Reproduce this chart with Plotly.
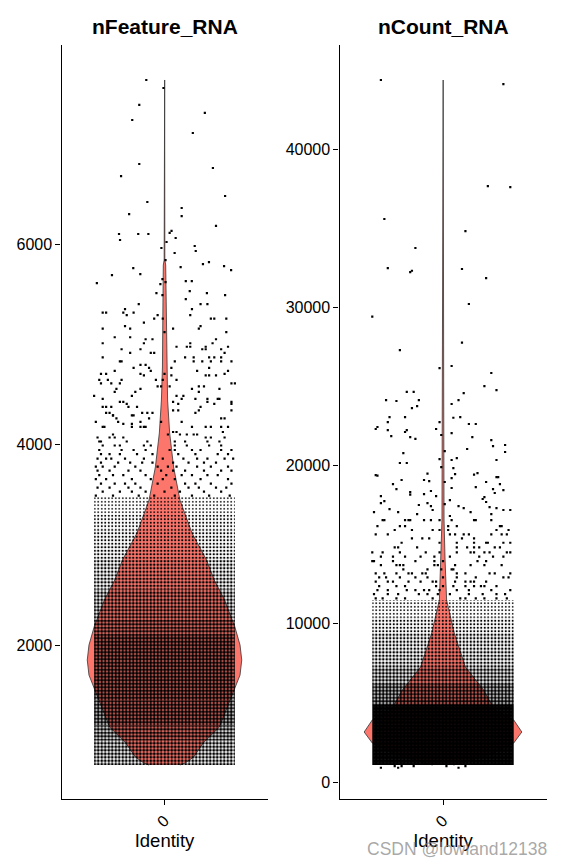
import plotly.graph_objects as go

# Violin outlines: value and half-width at that value.
nf_violin_y = [803, 823, 883, 1022, 1182, 1551, 1700, 1850, 2000, 2180, 2449, 2648, 2848, 3117, 3446, 3776, 4115, 4444, 4773, 5441, 5790, 5840, 7636]
nf_violin_w = [0.09, 0.12, 0.17, 0.225, 0.32, 0.405, 0.44, 0.45, 0.44, 0.41, 0.35, 0.29, 0.245, 0.16, 0.09, 0.053, 0.03, 0.018, 0.012, 0.009, 0.007, 0.002, 0.001]
nc_violin_y = [1074, 1200, 1833, 2465, 3160, 3918, 4550, 5814, 7268, 9417, 11500, 14030, 16558, 24774, 44366]
nc_violin_w = [0.06, 0.11, 0.29, 0.41, 0.457, 0.41, 0.3, 0.235, 0.13, 0.065, 0.021, 0.012, 0.006, 0.004, 0.001]

# Share of the jitter strip covered by dots, per value band. The dense cloud
# holds far too many dots to read one by one, so it is given as coverage and
# drawn with a dot fill pattern: a stand-in texture, not the original dots.
nf_band_lo = [3300, 3150, 3000, 2850, 2700, 2550, 2400, 2250, 2100, 1450, 1200, 1050, 900, 803]
nf_band_hi = [3480, 3300, 3150, 3000, 2850, 2700, 2550, 2400, 2250, 2100, 1450, 1200, 1050, 900]
nf_band_cover = [0.2, 0.26, 0.31, 0.36, 0.42, 0.48, 0.54, 0.6, 0.67, 0.76, 0.74, 0.68, 0.6, 0.52]
nc_band_lo = [10400, 9400, 8300, 7270, 6200, 5180, 4870, 1074]
nc_band_hi = [11500, 10400, 9400, 8300, 7270, 6200, 5180, 4870]
nc_band_cover = [0.24, 0.3, 0.38, 0.46, 0.58, 0.7, 0.78, 0.9]
jitter_half_width = 0.41

# Individually read dots, as (value, [jitter positions]) rows; estimated in the busier rows.
nf_rows = [
 (7636,[-.106]),(7556,[-.006]),(7387,[-.147]),(7307,[.235]),(7237,[-.188]),(7107,[.165]),(6798,[-.147]),(6758,[.282]),
 (6678,[-.253]),(6479,[.353]),(6419,[-.1]),(6359,[.1]),(6299,[-.206]),(6279,[.1]),(6180,[.3]),(6130,[.041]),(6110,[.03]),
 (6100,[-.265,-.153,-.094]),(6060,[.065]),(6040,[-.259]),(6020,[.012]),(5980,[.176]),(5960,[-.018]),(5930,[.182]),(5910,[.059]),
 (5840,[.006]),(5820,[.259]),(5800,[.224]),(5780,[.347]),(5770,[.094]),(5760,[-.182]),(5740,[.388]),(5700,[-.141]),(5690,[-.306]),
 (5650,[-.012]),(5630,[.124,.159]),(5620,[.006]),(5610,[-.394]),(5600,[-.024]),(5530,[.147]),(5510,[-.047,.247]),(5490,[.353,-.012]),(5450,[.124]),
 (5400,[-.15,.21,.25]),(5350,[-.23,.16]),(5315,[-.36,-.34,-.24,-.18]),(5290,[-.04,-.22,.15]),(5255,[.27,.36,.29,-.06,-.01]),(5215,[-.12]),
 (5180,[.21,-.23]),(5155,[-.36,.2,-.2,.05]),(5120,[.36,0]),(5070,[-.2,-.29]),(5050,[-.11,-.07,.3]),(5010,[-.36,-.12,.28,.15]),
 (4975,[.13,.15,.24,.37,.07]),(4950,[-.25,-.14,.22,.33,.24]),(4915,[.35,-.2,-.08,-.06]),(4870,[.26,-.36,.12,.17,.29,.33]),
 (4830,[.39,-.25,-.26,.06,.17,.22,.27,.33]),(4795,[-.14,-.11]),(4765,[-.09,.26,.04,-.18]),(4735,[.19,-.29,-.08,.37]),
 (4705,[0,-.14,.35,-.37,-.34]),(4690,[-.12,.04,.24,.26,.3]),(4645,[-.38,-.33,-.25,-.05,.07,-.01]),(4610,[-.31,-.37,-.26,.41,.39]),
 (4580,[-.02,.03,-.04,.2,.23]),(4555,[-.28,.16,.32,-.14]),(4525,[-.29,-.17,.2]),(4485,[-.41,-.19,.11,.07]),(4455,[.25,.31,.32,-.36,.1,.18]),
 (4425,[-.24,-.26,.05,.25,.39]),(4405,[.39,-.22,.08,.29]),(4375,[.21,-.36,-.21,-.16,-.34,-.31]),(4340,[.08,.05,.2,.39]),
 (4315,[.18,-.13,-.1,-.07,-.34,-.32]),(4290,[-.3,-.19,-.18,-.3]),(4260,[-.28,.33,.35,-.09]),(4225,[-.4,-.27,-.14,.1,-.02]),(4205,[-.24,-.19]),
 (4175,[.24,.27,-.36,-.35,-.12,-.14,-.11,.16,-.19,.33,.37]),(4125,[.05,.07,.34]),(4100,[.13,.09,.19,.17,.02,-.3]),(4070,[-.32,-.29,-.24,-.39,.24,.27,.35]),
 (4030,[-.37,-.38,-.22,-.1,.06,.12,.25,.32]),(3990,[-.36,-.29,-.26,-.12,-.08,.13,.26,.33,.06]),(3945,[-.38,-.25,-.18,-.11,.03,.06,.16,.21,.33,.39]),
 (3905,[-.37,-.32,-.26,-.16,-.07,.08,.18,.31,.37]),(3860,[-.39,-.34,-.31,-.23,-.12,-.01,.11,.19,.25,.35,.4]),(3820,[-.37,-.27,-.2,-.13,-.07,.05,.14,.23,.3]),
 (3780,[-.4,-.36,-.29,-.17,-.04,.02,.07,.19,.27,.37]),(3740,[-.39,-.32,-.21,-.14,-.02,.05,.12,.23,.33,.39]),(3695,[-.38,-.3,-.24,-.11,.01,.1,.16,.25,.31]),
 (3655,[-.4,-.34,-.19,-.08,-.01,.06,.21,.37]),(3610,[-.37,-.29,-.23,-.17,-.04,.12,.18,.27,.39]),(3570,[-.39,-.32,-.21,-.14,.04,.14,.2,.3,.36]),
 (3530,[-.36,-.26,-.19,-.11,0,.09,.23,.33]),(3490,[-.4,-.3,-.15,-.06,.06,.16,.26,.38]),
]
nc_rows = [
 (44366,[-.36]),(44110,[.35]),(37665,[.26]),(37600,[.39]),(35580,[-.34]),(34820,[.13]),(33750,[-.16]),(32480,[-.32]),(32420,[.11]),(32310,[-.18]),(32230,[-.19]),(31850,[.25]),
 (30210,[.15]),(29410,[-.41]),(27765,[.11]),(27300,[-.25]),(26290,[.05]),(26160,[-.02]),(25850,[.28]),(25025,[.24]),(24770,[.31]),(24650,[-.21,-.17]),(24580,[.12]),
 (24140,[-.33,-.14,.09]),(24080,[-.27]),(23890,[.05]),(23760,[-.15]),(23630,[-.18]),(23060,[-.31,-.22,.1]),(23020,[.06]),(22750,[-.32,-.02]),(22625,[.15,.19]),
 (22435,[-.38]),(22310,[-.39,-.04]),(22240,[-.32,-.21]),(22120,[-.22]),(22055,[.05]),(21930,[-.01]),(21865,[-.3]),(21800,[-.19,.17]),(21680,[-.16]),(21610,[.28]),
 (21300,[.36]),(21230,[.29]),(21045,[.14]),(20915,[.01]),(20855,[.36]),(20790,[-.23]),(20475,[.08]),(20410,[-.02]),(20350,[.05,.31]),(20160,[-.25,-.21]),(19905,[-.01]),(19840,[.06]),
 (19525,[.2]),(19485,[-.09]),(19460,[.07]),(19420,[.18]),(19400,[-.39]),(19360,[-.38]),(19270,[.31,.32]),(19210,[.05]),(19085,[-.24,-.11]),(19020,[-.08]),(18960,[.01,.25]),
 (18830,[-.29,.33]),(18640,[.19]),(18580,[.05]),(18515,[.29,-.27]),(18450,[.35]),(18390,[-.07]),(18325,[-.19]),(18265,[.3]),(18200,[-.11]),(18160,[-.19]),(18070,[-.04,-.36]),
 (18010,[.24]),(17885,[.23]),(17820,[.04]),(17755,[-.34]),(17695,[.25]),(17630,[-.36,-.09]),(17565,[.01]),(17505,[-.14]),(17440,[-.07,.09]),(17375,[.27]),(17315,[.12,.31]),
 (17250,[-.31]),(17190,[-.06,.35,.39]),(17060,[-.4,-.26,.16]),(16935,[-.15,.28]),(16810,[.04]),
 (16555,[-.35,-.34,-.22,-.2,-.19,-.11,-.07,-.02,.05,.18,.19,.28]),(16175,[-.38,-.25,-.22,.03,.08,.33,.34]),(15925,[-.28,-.18,-.06,-.02,.03,.31,.38]),
 (15650,[-.39,-.32,.12,.07,.15,.28,.34,.04,.37]),(15400,[-.18,-.12,-.08,.11,.18]),(15120,[-.24,-.02,.08,.25,.26,.35,.39,.18]),
 (14830,[-.26,-.28,-.15,.08,.14,.18,.21,.3,.33]),(14510,[-.41,-.35,-.25,-.1,-.02,.08,.16,.18,.24,.27,.37,.39]),(14240,[-.36,-.29,-.22,-.13,-.05,.04,.21,.29,.35]),
 (13965,[-.41,-.4,-.29,-.16,-.05,0,.2,.25]),(13710,[-.36,-.27,-.25,-.23,-.05,-.03,.07,.16,.24,.34]),(13440,[-.23,-.09,-.01,.06,.05]),
 (13185,[-.39,-.34,-.27,-.2,-.18,-.12,-.1,.08,.13,.27,.3,.39]),(12930,[-.37,-.33,-.25,-.16,-.09,0,.08,.19,.35,.38]),
 (12660,[-.39,-.32,-.29,-.2,-.13,-.06,-.04,.07,.13,.16,.18,.25]),(12385,[-.37,-.27,-.22,-.04,0,.06,.13,.18,.22,.24,.31]),
 (12130,[-.38,-.32,-.21,-.16,-.11,-.08,-.02,.08,.15,.28,.39]),(11880,[-.4,-.32,-.26,-.14,-.09,-.03,.04,.15,.23,.31,.36]),
 (11600,[-.39,-.35,-.27,-.22,-.06,.1,.13,.19,.24,.31,.37]),
 (1000,[-.28,-.24,-.17,.02,.13]),(900,[-.36,-.26,.09]),
]

panels = [
    ("nFeature_RNA", nf_violin_y, nf_violin_w, nf_band_lo, nf_band_hi, nf_band_cover, nf_rows, [464, 7985], [2000, 4000, 6000], "x", "y", [61.5, 267.5]),
    ("nCount_RNA", nc_violin_y, nc_violin_w, nc_band_lo, nc_band_hi, nc_band_cover, nc_rows, [-1074, 46578], [0, 10000, 20000, 30000, 40000], "x2", "y2", [339.5, 546.5]),
]
W, H = 563, 866
FONT = "Liberation Sans"
fig = go.Figure()
layout = {}
for title, vy, vw, blo, bhi, bc, rows, yrange, yticks, xa, ya, xpx in panels:
    fig.add_trace(go.Scatter(
        x=[-w for w in vw] + [w for w in reversed(vw)], y=list(vy) + list(reversed(vy)),
        mode="lines", fill="toself", fillcolor="#FC766C", line=dict(color="#333333", width=0.8),
        xaxis=xa, yaxis=ya, showlegend=False, hoverinfo="skip"))
    for lo, hi, c in zip(blo, bhi, bc):
        fig.add_trace(go.Scatter(
            x=[-jitter_half_width, jitter_half_width, jitter_half_width, -jitter_half_width], y=[lo, lo, hi, hi],
            mode="none", fill="toself", fillcolor="rgba(0,0,0,0)",
            fillpattern=dict(shape=".", fgcolor="black", fgopacity=1, bgcolor="rgba(0,0,0,0)", size=3.5, solidity=c),
            xaxis=xa, yaxis=ya, showlegend=False, hoverinfo="skip"))
    px = [x for _, xs in rows for x in xs]
    py = [y for y, xs in rows for _ in xs]
    fig.add_trace(go.Scatter(x=px, y=py, mode="markers", marker=dict(color="black", size=2.2, symbol="square", line=dict(width=0)),
                             xaxis=xa, yaxis=ya, showlegend=False, hoverinfo="skip"))
    suffix = xa[1:]
    layout["xaxis" + suffix] = dict(
        domain=[xpx[0] / W, xpx[1] / W], range=[-0.6, 0.6], tickvals=[0], ticktext=["0"], tickangle=-45,
        ticks="outside", ticklen=5, tickwidth=1.2, tickcolor="black", showline=True, linecolor="black", linewidth=1.3,
        showgrid=False, zeroline=False, anchor=ya, tickfont=dict(family=FONT, size=16, color="black"),
        title=dict(text="Identity", font=dict(family=FONT, size=18.5, color="black"), standoff=0))
    layout["yaxis" + suffix] = dict(
        domain=[1 - 799 / H, 1 - 45 / H], range=yrange, tickvals=yticks, ticks="outside", ticklen=5, tickwidth=1.2,
        tickcolor="black", showline=True, linecolor="black", linewidth=1.3, showgrid=False, zeroline=False, anchor=xa,
        tickformat="d", tickfont=dict(family=FONT, size=16, color="black"))
    fig.add_annotation(text=f"<b>{title}</b>", x=(xpx[0] + xpx[1]) / 2 / W, y=1 - 27 / H, xref="paper", yref="paper",
                       showarrow=False, font=dict(family=FONT, size=21, color="black"), xanchor="center", yanchor="middle")
fig.add_annotation(text="CSDN @lowland12138", x=549 / W, y=1 - 849 / H, xref="paper", yref="paper", showarrow=False,
                   font=dict(family=FONT, size=17.5, color="rgba(130,130,130,0.7)"), xanchor="right", yanchor="middle")
fig.update_layout(width=W, height=H, margin=dict(l=0, r=0, t=0, b=0), paper_bgcolor="white", plot_bgcolor="white", **layout)
fig.write_html("out.html", config={"displayModeBar": False}, post_script="document.body.style.margin='0';")
